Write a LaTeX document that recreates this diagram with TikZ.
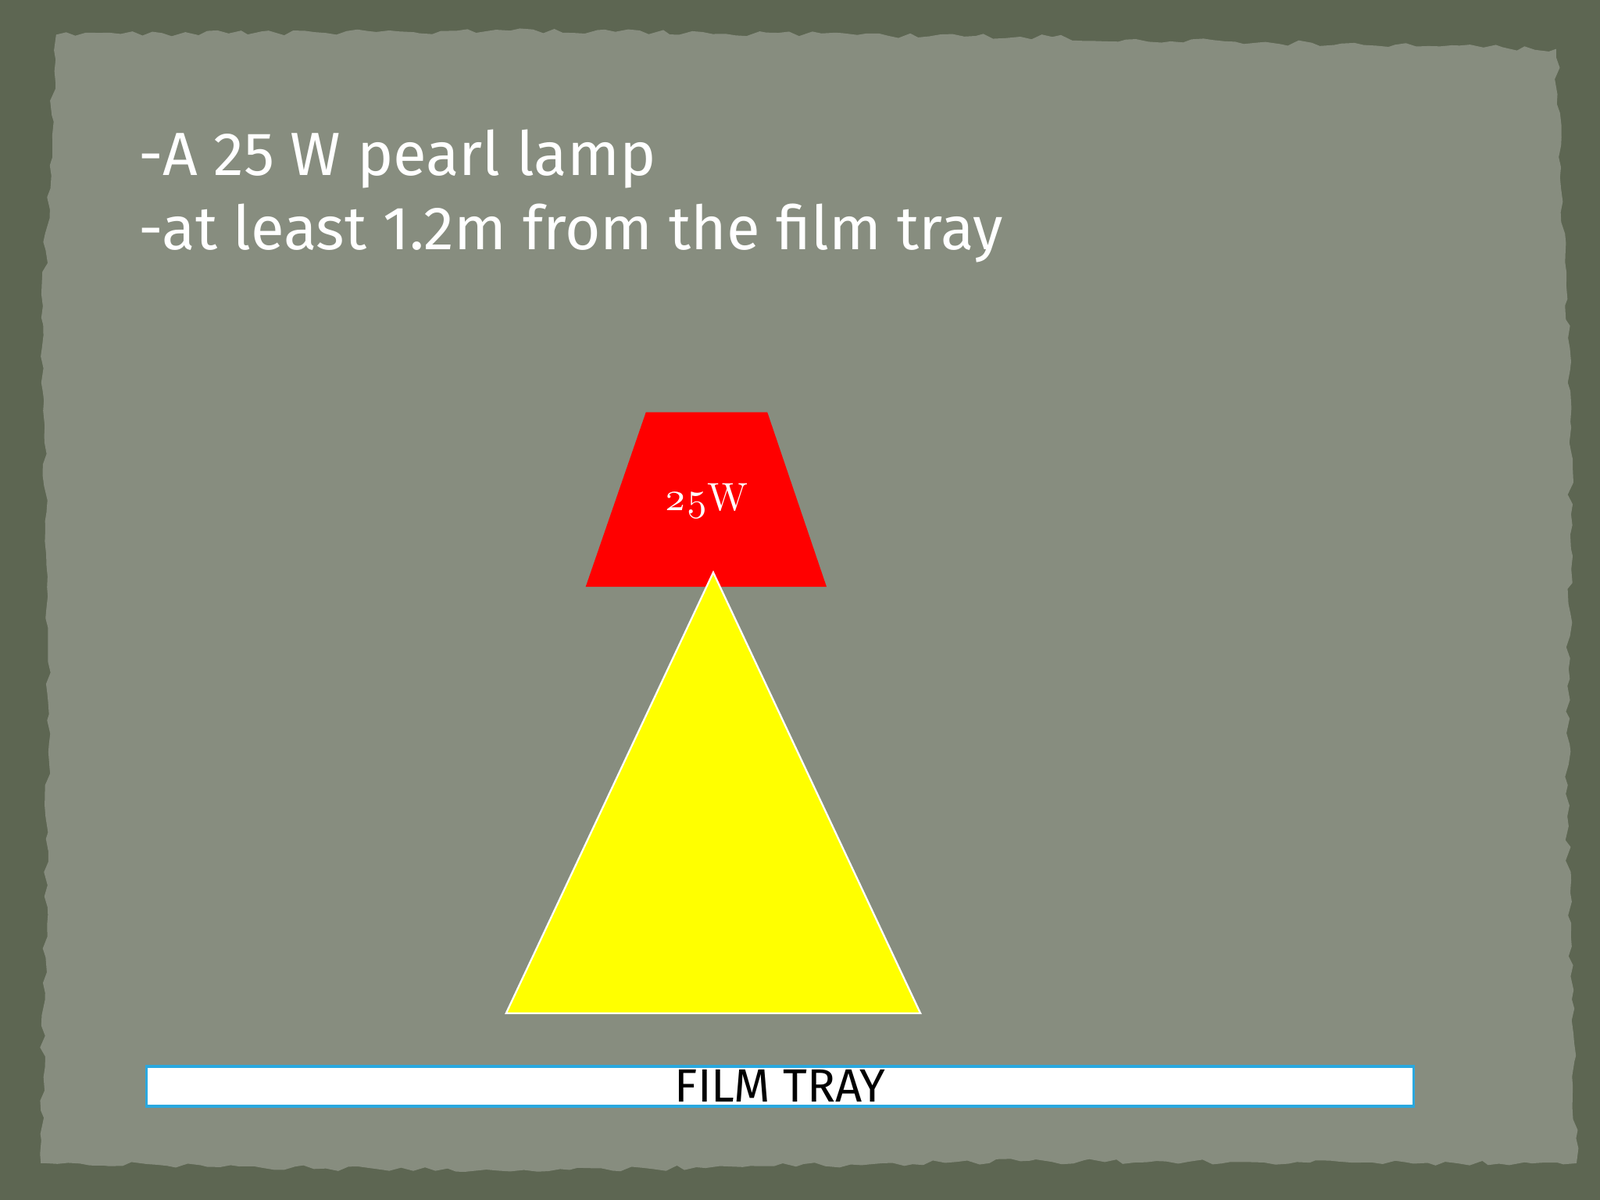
\documentclass[tikz,border=0pt]{standalone}
\usepackage{fontspec}
\setmainfont{Latin Modern Roman}
\newfontfamily\titlefont{Fira Sans}
\usetikzlibrary{decorations.pathmorphing}
\definecolor{frameC}{HTML}{5D6652}
\definecolor{paperC}{HTML}{878D7F}
\definecolor{trayedge}{HTML}{2AA8DF}
\definecolor{beamC}{HTML}{FFFF00}
\definecolor{shadeC}{HTML}{FF0000}
\tikzset{
  titletext/.style={text=white, font=\titlefont\fontsize{17}{20}\selectfont, inner sep=0pt, anchor=base west},
  lampshade/.style={fill=shadeC, draw=none},
  beam/.style={fill=beamC, draw=white, line width=0.5pt},
  traybox/.style={fill=white, draw=trayedge, line width=0.8pt, inner sep=0pt,
    minimum width=12.41cm, minimum height=0.39cm, text=black,
    font=\titlefont\fontsize{13}{15}\selectfont}
}
\begin{document}
\begin{tikzpicture}[x=0.01cm,y=-0.01cm]
\useasboundingbox (0,0) rectangle (1568,1176);
\fill[frameC] (0,0) rectangle (1568,1176);
\fill[paperC, decorate, decoration={random steps, segment length=3pt, amplitude=0.8pt}]
  (55,34) -- (500,30) -- (1000,36) -- (1525,48) -- (1540,400) -- (1536,800) -- (1545,1140)
  -- (1000,1138) -- (500,1148) -- (40,1140) -- (48,700) -- (42,300) -- cycle;
\node[titletext] (t1) at (135,172) {-A 25 W pearl lamp};
\node[titletext] (t2) at (135,245) {-at least 1.2m from the film tray};
\path[lampshade] (633,404) -- (752,404) -- (810,575) -- (574,575) -- cycle;
\node[text=white, font=\fontsize{11}{13}\selectfont] (w) at (692,491) {\oldstylenums{25}W};
\path[beam] (699,561) -- (902,993) -- (496,993) -- cycle;
\node[traybox] (tray) at (764.5,1064.5) {FILM TRAY};
\end{tikzpicture}
\end{document}
